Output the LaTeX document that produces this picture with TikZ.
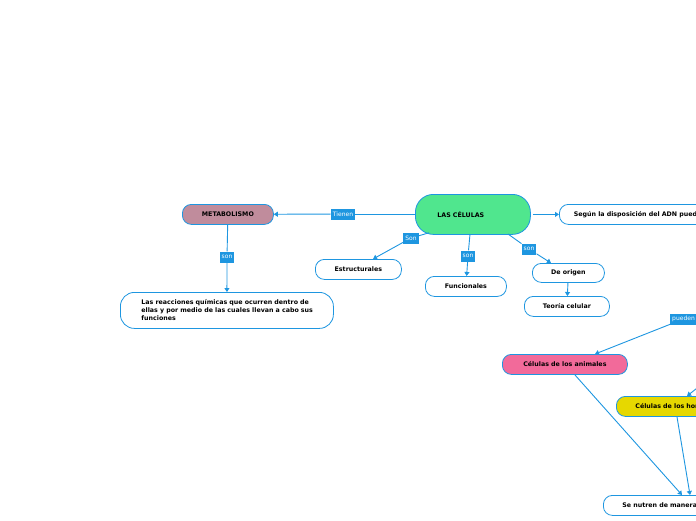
\documentclass[tikz,border=0pt]{standalone}
\usepackage{fontspec}
\setmainfont{DejaVu Sans}
\usetikzlibrary{arrows.meta}
\definecolor{ln}{HTML}{1E96E0}
\definecolor{gr}{HTML}{50E68E}
\definecolor{mv}{HTML}{C08C9C}
\definecolor{pk}{HTML}{F26A9A}
\definecolor{yl}{HTML}{E6D800}
\begin{document}
\begin{tikzpicture}[x=1pt,y=-1pt,
 box/.style={draw=ln,line width=0.8pt,rounded corners=9pt,fill=white,font=\fontsize{6.3}{8}\selectfont\bfseries,inner sep=0pt,anchor=north west},
 lab/.style={fill=ln,text=white,font=\fontsize{6}{6}\selectfont,inner sep=2pt,minimum height=11pt},
 con/.style={draw=ln,line width=0.9pt},
 arr/.style={con,-{Triangle[length=4pt,width=5pt]}}]
\useasboundingbox (0,0) rectangle (696,520);
\clip (0,0) rectangle (696,520);
\node[box,fill=gr,rounded corners=18pt,minimum width=115pt,minimum height=40pt,text width=105pt,align=left] (cel) at (415,194) {\hspace*{17pt}LAS CÉLULAS};
\node[box,minimum width=200pt,minimum height=20pt,text width=195pt,align=left] (seg) at (559,204) {\hspace*{12pt}Según la disposición del ADN pueden ser};
\node[box,fill=mv,minimum width=91pt,minimum height=20pt] (met) at (182,204) {METABOLISMO};
\node[box,minimum width=86pt,minimum height=20pt] (est) at (315,259) {Estructurales};
\node[box,minimum width=81pt,minimum height=20pt] (fun) at (425,276) {Funcionales};
\node[box,minimum width=72pt,minimum height=19pt] (ori) at (532,263) {De origen};
\node[box,minimum width=85pt,minimum height=20pt] (teo) at (524,296) {Teoría celular};
\node[box,rounded corners=14pt,minimum width=213pt,minimum height=36pt,text width=205pt,align=left] (rea) at (120,292) {\hspace*{17pt}\parbox{178pt}{\raggedright Las reacciones químicas que ocurren dentro de ellas y por medio de las cuales llevan a cabo sus funciones}};
\node[box,fill=pk,minimum width=125pt,minimum height=20pt] (ani) at (502,354) {Células de los animales};
\node[box,fill=yl,minimum width=130pt,minimum height=20pt,text width=120pt,align=left] (hon) at (616,396) {\hspace*{14pt}Células de los hongos};
\node[box,minimum width=150pt,minimum height=20pt,text width=140pt,align=left] (nut) at (603,495) {\hspace*{14pt}Se nutren de manera};
\node[lab] (l1) at (343,214) {Tienen};
\node[lab] (l2) at (411,238) {Son};
\node[lab] (l3) at (468,256) {son};
\node[lab] (l4) at (529,249) {son};
\node[lab] (l5) at (227,257) {son};
\node[lab,anchor=west] (l6) at (670,319) {pueden};
\coordinate (r1) at (720,370);
\draw[con] (cel.west|-l1) -- (l1); \draw[arr] (l1) -- (met);
\draw[arr] (cel.east) ++(2,0) coordinate (ce) (ce) -- (seg);
\draw[con] (cel.south west)++(14,-2) coordinate (c1) (c1) -- (l2); \draw[arr] (l2) -- (373,259);
\draw[con] (470,234) -- (l3); \draw[arr] (l3) -- (fun);
\draw[con] (508,234) -- (l4); \draw[arr] (l4) -- (551,263);
\draw[arr] (ori) -- (teo);
\draw[con] (met) -- (l5); \draw[arr] (l5) -- (rea);
\draw[arr] (l6) -- (595,354);
\draw[arr] (r1) -- (687,396);
\draw[arr] (575,375) -- (682,495);
\draw[arr] (677,417) -- (690,495);
\end{tikzpicture}
\end{document}
